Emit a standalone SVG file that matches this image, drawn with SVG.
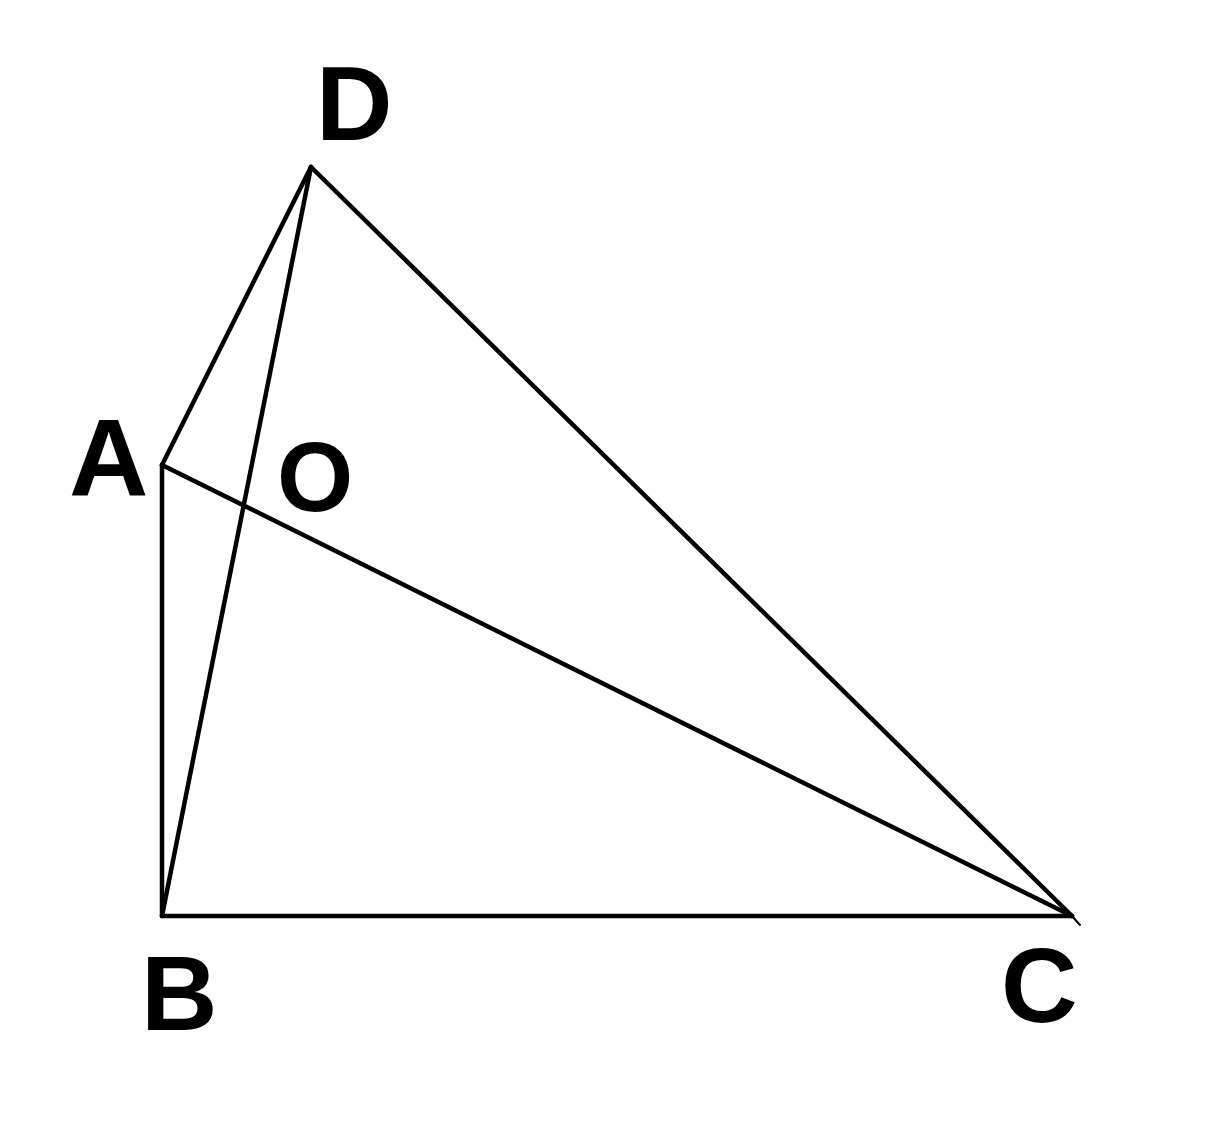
<svg xmlns="http://www.w3.org/2000/svg" width="1212" height="1128" viewBox="0 0 1212 1128">
<style>
.edge{stroke:#000;stroke-width:4.5;fill:none;stroke-linecap:round;stroke-linejoin:round}
.lbl{font-family:"Liberation Sans",Arial,sans-serif;font-weight:bold;font-size:106px;fill:#000}
</style>
<rect width="1212" height="1128" fill="#fff"/>
<g id="connectors">
<line class="edge" x1="311" y1="167" x2="162" y2="465"/>
<line class="edge" x1="311" y1="167" x2="162" y2="916"/>
<line class="edge" x1="311" y1="167" x2="1072" y2="916"/>
<line class="edge" x1="162" y1="465" x2="162" y2="916"/>
<line class="edge" x1="162" y1="465" x2="1072" y2="916"/>
<line class="edge" x1="162" y1="916" x2="1072" y2="916"/>
<line class="edge" x1="1072" y1="916" x2="1080" y2="925" style="stroke-width:2"/>
</g>
<g id="D"><text class="lbl" x="316" y="140">D</text></g>
<g id="A"><text class="lbl" x="69" y="495" style="font-size:110px">A</text></g>
<g id="O"><text class="lbl" x="277" y="511" style="font-size:98px">O</text></g>
<g id="B"><text class="lbl" x="141" y="1030">B</text></g>
<g id="C"><text class="lbl" x="1001" y="1022">C</text></g>
</svg>
